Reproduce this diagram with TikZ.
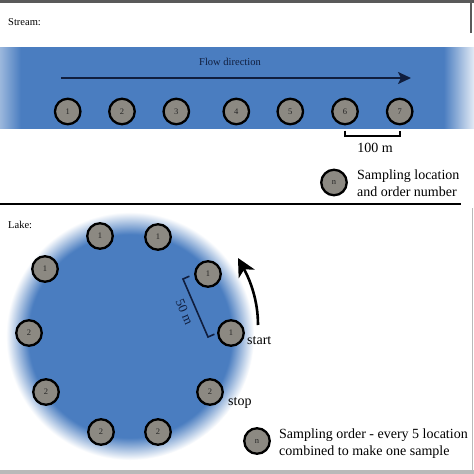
\documentclass[tikz,border=0pt]{standalone}
\usepackage{fontspec}
\setmainfont{Liberation Serif}
\usetikzlibrary{arrows.meta,calc}
\definecolor{waterblue}{RGB}{74,125,192}
\definecolor{dotgray}{RGB}{140,137,130}
\definecolor{navy}{RGB}{16,30,62}
\definecolor{framegray}{RGB}{90,90,90}
\definecolor{edgegray}{RGB}{185,185,185}
\pgfdeclarehorizontalshading{bandfade}{100bp}{color(0bp)=(waterblue!55!white); color(25bp)=(waterblue!55!white); color(27.2bp)=(waterblue); color(71.8bp)=(waterblue); color(75bp)=(waterblue!15!white); color(100bp)=(waterblue!15!white)}
\pgfdeclareradialshading{lakefade}{\pgfpoint{0bp}{0bp}}{color(0bp)=(waterblue); color(20.5bp)=(waterblue); color(25bp)=(white); color(50bp)=(white)}
\begin{document}
\begin{tikzpicture}[x=1pt,y=-1pt,
  dot/.style={circle,draw=black,line width=2.3pt,fill=dotgray,minimum size=25.5pt,inner sep=0pt,font=\fontsize{8.5}{8.5}\selectfont,text=black!85},
  lbl/.style={font=\fontsize{10.5}{12}\selectfont,anchor=west,inner sep=0pt},
  legend/.style={font=\fontsize{14}{17}\selectfont,align=left,anchor=west,inner sep=0pt},
  bigtext/.style={font=\fontsize{14}{14}\selectfont,inner sep=0pt},
  bar/.style={line width=1.6pt},
]
\useasboundingbox (0,0) rectangle (474,474);
\fill[white] (0,0) rectangle (474,474);
% frame
\fill[framegray] (0,0) rectangle (474,2.5);
\fill[edgegray] (0,470) rectangle (474,474);
\draw[framegray,line width=1.5pt] (471,0) -- (471,33);
\draw[edgegray,line width=1pt] (472,208) -- (472,470);
\draw[black,line width=2.5pt] (0,204) -- (461,204);
% ---------- Stream
\node[lbl] (streamlbl) at (8,22) {Stream:};
\shade[shading=bandfade] (0,47) rectangle (474,128);
\node[font=\fontsize{10.5}{12}\selectfont,text=navy] (flow) at (230,62) {Flow direction};
\coordinate (fa) at (61,78);
\coordinate (fb) at (411,78);
\draw[navy,line width=2.2pt,-{Stealth[length=13pt,width=12pt,inset=3pt]}] (fa) -- (fb);
\foreach \n/\x in {1/67.7,2/122,3/176.3,4/236.3,5/290.3,6/345,7/399.7}
  \node[dot] (s\n) at (\x,111.5) {\n};
\draw[bar] ($(s6.center)+(0,19)$) -- ($(s6.center)+(0,24.5)$) -- ($(s7.center)+(0,24.5)$) -- ($(s7.center)+(0,19)$);
\node[bigtext] (hundred) at (375,148) {100 m};
\node[dot] (slegend) at (334,182.5) {n};
\node[legend] (slegtext) at (357,183.5) {Sampling location\\and order number};
% ---------- Lake
\node[lbl] (lakelbl) at (8,225) {Lake:};
\shade[shading=lakefade] (130,336) circle[radius=124];
\foreach \n/\x/\y/\t in {a/231/333/1, b/208/274/1, c/158/237/1, d/100/236/1, e/45/269/1, f/29/333/2, g/46/392/2, h/101/432/2, i/158/432/2, j/210/392/2}
  \node[dot] (l\n) at (\x,\y) {\t};
\coordinate (bt) at (183,279);
\coordinate (bb) at (208,337);
\draw[navy,bar] ($(bt)+(6.4,-2.8)$) -- (bt) -- (bb) -- ($(bb)+(6.4,-2.8)$);
\node[font=\fontsize{13}{13}\selectfont,text=navy,rotate=-66.7] (fifty) at (184.5,312) {50 m};
\coordinate (as) at (258,325);
\coordinate (ae) at (238,258);
\draw[line width=2.6pt,-{Stealth[length=18pt,width=18pt,inset=5pt]}] (as) .. controls (258,300) and (250,280) .. (ae);
\node[bigtext,anchor=west] (start) at (247,341) {start};
\node[bigtext,anchor=west] (stop) at (228,403) {stop};
\node[dot] (llegend) at (257,441) {n};
\node[legend] (llegtext) at (279,444) {Sampling order - every 5 location\\combined to make one sample};
\end{tikzpicture}
\end{document}
